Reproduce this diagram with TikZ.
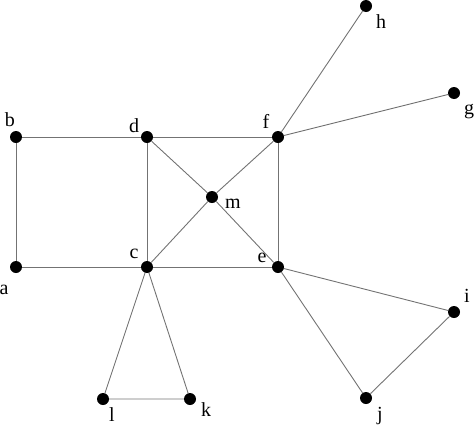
\documentclass[tikz,border=0pt]{standalone}
\usepackage{fontspec}
\setmainfont{Liberation Serif}
\usetikzlibrary{positioning}
\tikzset{
  vertex/.style={circle, fill=black, inner sep=0pt, minimum size=12pt},
  edge/.style={draw=black!55, line width=0.9pt},
  lbl/.style={inner sep=0pt, font=\fontsize{20}{24}\selectfont}
}
\begin{document}
\begin{tikzpicture}[x=1pt, y=-1pt]
  \useasboundingbox (0,0) rectangle (474,426);
  % vertices
  \node[vertex] (a) at (16,267) {};
  \node[vertex] (b) at (16,137) {};
  \node[vertex] (c) at (147,267) {};
  \node[vertex] (d) at (147,137) {};
  \node[vertex] (e) at (278,267) {};
  \node[vertex] (f) at (278,137) {};
  \node[vertex] (m) at (212,197) {};
  \node[vertex] (h) at (366,6) {};
  \node[vertex] (g) at (454,93) {};
  \node[vertex] (i) at (454,312) {};
  \node[vertex] (j) at (366,398) {};
  \node[vertex] (l) at (103,399) {};
  \node[vertex] (k) at (190,399) {};
  % labels
  \node[lbl] (la) at (4,290) {a};
  \node[lbl] (lb) at (10,120) {b};
  \node[lbl] (lc) at (134,254) {c};
  \node[lbl] (ld) at (134,126) {d};
  \node[lbl] (le) at (262,258) {e};
  \node[lbl] (lf) at (266,121) {f};
  \node[lbl] (lm) at (233,204) {m};
  \node[lbl] (lh) at (381,22) {h};
  \node[lbl] (lg) at (469,112) {g};
  \node[lbl] (li) at (467,296) {i};
  \node[lbl] (lj) at (380,416) {j};
  \node[lbl] (ll) at (112,415) {l};
  \node[lbl] (lk) at (206,410) {k};
  % edges
  \draw[edge] (a) -- (b) -- (d) -- (f) -- (e) -- (c) -- (a);
  \draw[edge] (d) -- (c);
  \draw[edge] (d) -- (m) -- (e);
  \draw[edge] (c) -- (m) -- (f);
  \draw[edge] (f) -- (h);
  \draw[edge] (f) -- (g);
  \draw[edge] (e) -- (i) -- (j) -- (e);
  \draw[edge] (c) -- (l) -- (k) -- (c);
\end{tikzpicture}
\end{document}
